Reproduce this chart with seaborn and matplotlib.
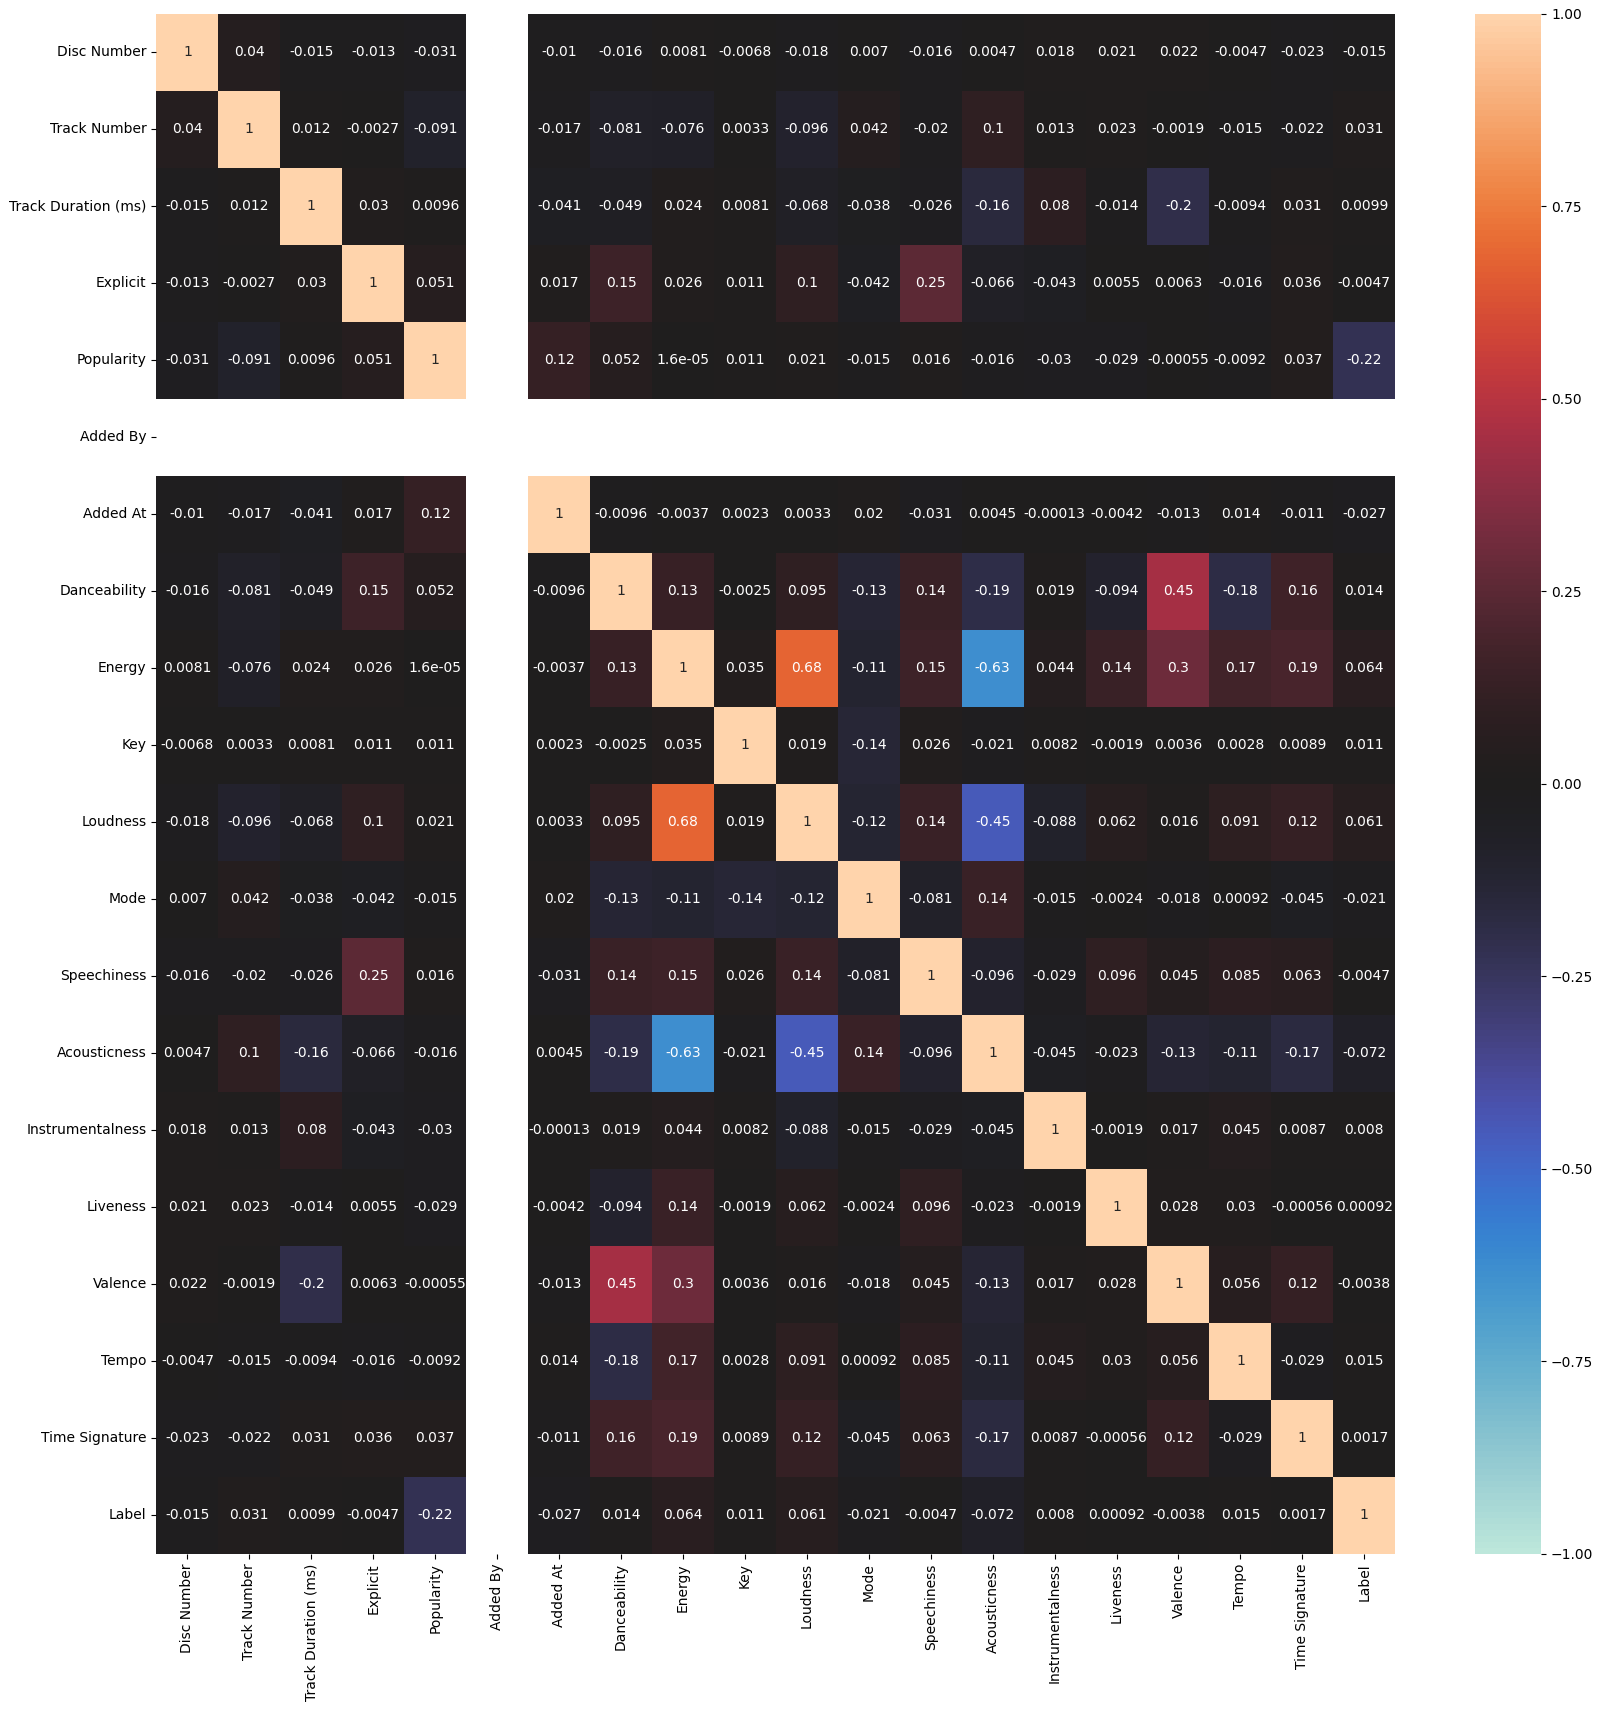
import numpy as np
import pandas as pd
import matplotlib
matplotlib.use("Agg")
import matplotlib.pyplot as plt
import seaborn as sns

nan = np.nan

columns = ["Disc Number", "Track Number", "Track Duration (ms)", "Explicit", "Popularity",
           "Added By", "Added At", "Danceability", "Energy", "Key", "Loudness", "Mode",
           "Speechiness", "Acousticness", "Instrumentalness", "Liveness", "Valence",
           "Tempo", "Time Signature", "Label"]

disc_number = [1, .04, -.015, -.013, -.031, nan, -.01, -.016, .0081, -.0068, -.018, .007, -.016, .0047, .018, .021, .022, -.0047, -.023, -.015]
track_number = [.04, 1, .012, -.0027, -.091, nan, -.017, -.081, -.076, .0033, -.096, .042, -.02, .1, .013, .023, -.0019, -.015, -.022, .031]
track_duration = [-.015, .012, 1, .03, .0096, nan, -.041, -.049, .024, .0081, -.068, -.038, -.026, -.16, .08, -.014, -.2, -.0094, .031, .0099]
explicit = [-.013, -.0027, .03, 1, .051, nan, .017, .15, .026, .011, .1, -.042, .25, -.066, -.043, .0055, .0063, -.016, .036, -.0047]
popularity = [-.031, -.091, .0096, .051, 1, nan, .12, .052, 1.6e-5, .011, .021, -.015, .016, -.016, -.03, -.029, -.00055, -.0092, .037, -.22]
added_by = [nan] * 20
added_at = [-.01, -.017, -.041, .017, .12, nan, 1, -.0096, -.0037, .0023, .0033, .02, -.031, .0045, -.00013, -.0042, -.013, .014, -.011, -.027]
danceability = [-.016, -.081, -.049, .15, .052, nan, -.0096, 1, .13, -.0025, .095, -.13, .14, -.19, .019, -.094, .45, -.18, .16, .014]
energy = [.0081, -.076, .024, .026, 1.6e-5, nan, -.0037, .13, 1, .035, .68, -.11, .15, -.63, .044, .14, .3, .17, .19, .064]
key = [-.0068, .0033, .0081, .011, .011, nan, .0023, -.0025, .035, 1, .019, -.14, .026, -.021, .0082, -.0019, .0036, .0028, .0089, .011]
loudness = [-.018, -.096, -.068, .1, .021, nan, .0033, .095, .68, .019, 1, -.12, .14, -.45, -.088, .062, .016, .091, .12, .061]
mode = [.007, .042, -.038, -.042, -.015, nan, .02, -.13, -.11, -.14, -.12, 1, -.081, .14, -.015, -.0024, -.018, .00092, -.045, -.021]
speechiness = [-.016, -.02, -.026, .25, .016, nan, -.031, .14, .15, .026, .14, -.081, 1, -.096, -.029, .096, .045, .085, .063, -.0047]
acousticness = [.0047, .1, -.16, -.066, -.016, nan, .0045, -.19, -.63, -.021, -.45, .14, -.096, 1, -.045, -.023, -.13, -.11, -.17, -.072]
instrumentalness = [.018, .013, .08, -.043, -.03, nan, -.00013, .019, .044, .0082, -.088, -.015, -.029, -.045, 1, -.0019, .017, .045, .0087, .008]
liveness = [.021, .023, -.014, .0055, -.029, nan, -.0042, -.094, .14, -.0019, .062, -.0024, .096, -.023, -.0019, 1, .028, .03, -.00056, .00092]
valence = [.022, -.0019, -.2, .0063, -.00055, nan, -.013, .45, .3, .0036, .016, -.018, .045, -.13, .017, .028, 1, .056, .12, -.0038]
tempo = [-.0047, -.015, -.0094, -.016, -.0092, nan, .014, -.18, .17, .0028, .091, .00092, .085, -.11, .045, .03, .056, 1, -.029, .015]
time_signature = [-.023, -.022, .031, .036, .037, nan, -.011, .16, .19, .0089, .12, -.045, .063, -.17, .0087, -.00056, .12, -.029, 1, .0017]
label = [-.015, .031, .0099, -.0047, -.22, nan, -.027, .014, .064, .011, .061, -.021, -.0047, -.072, .008, .00092, -.0038, .015, .0017, 1]

rows = [disc_number, track_number, track_duration, explicit, popularity, added_by,
        added_at, danceability, energy, key, loudness, mode, speechiness, acousticness,
        instrumentalness, liveness, valence, tempo, time_signature, label]

corr = pd.DataFrame(rows, index=columns, columns=columns)

fig = plt.figure(figsize=(16.13, 17.12), dpi=100)
ax = fig.add_axes([0.097, 0.0925, 0.768, 0.8995])
cax = fig.add_axes([0.9145, 0.0925, 0.041, 0.8995])
sns.heatmap(corr, annot=True, vmin=-1, vmax=1, center=0, ax=ax, cbar_ax=cax)
plt.savefig("out.png", dpi=100)
